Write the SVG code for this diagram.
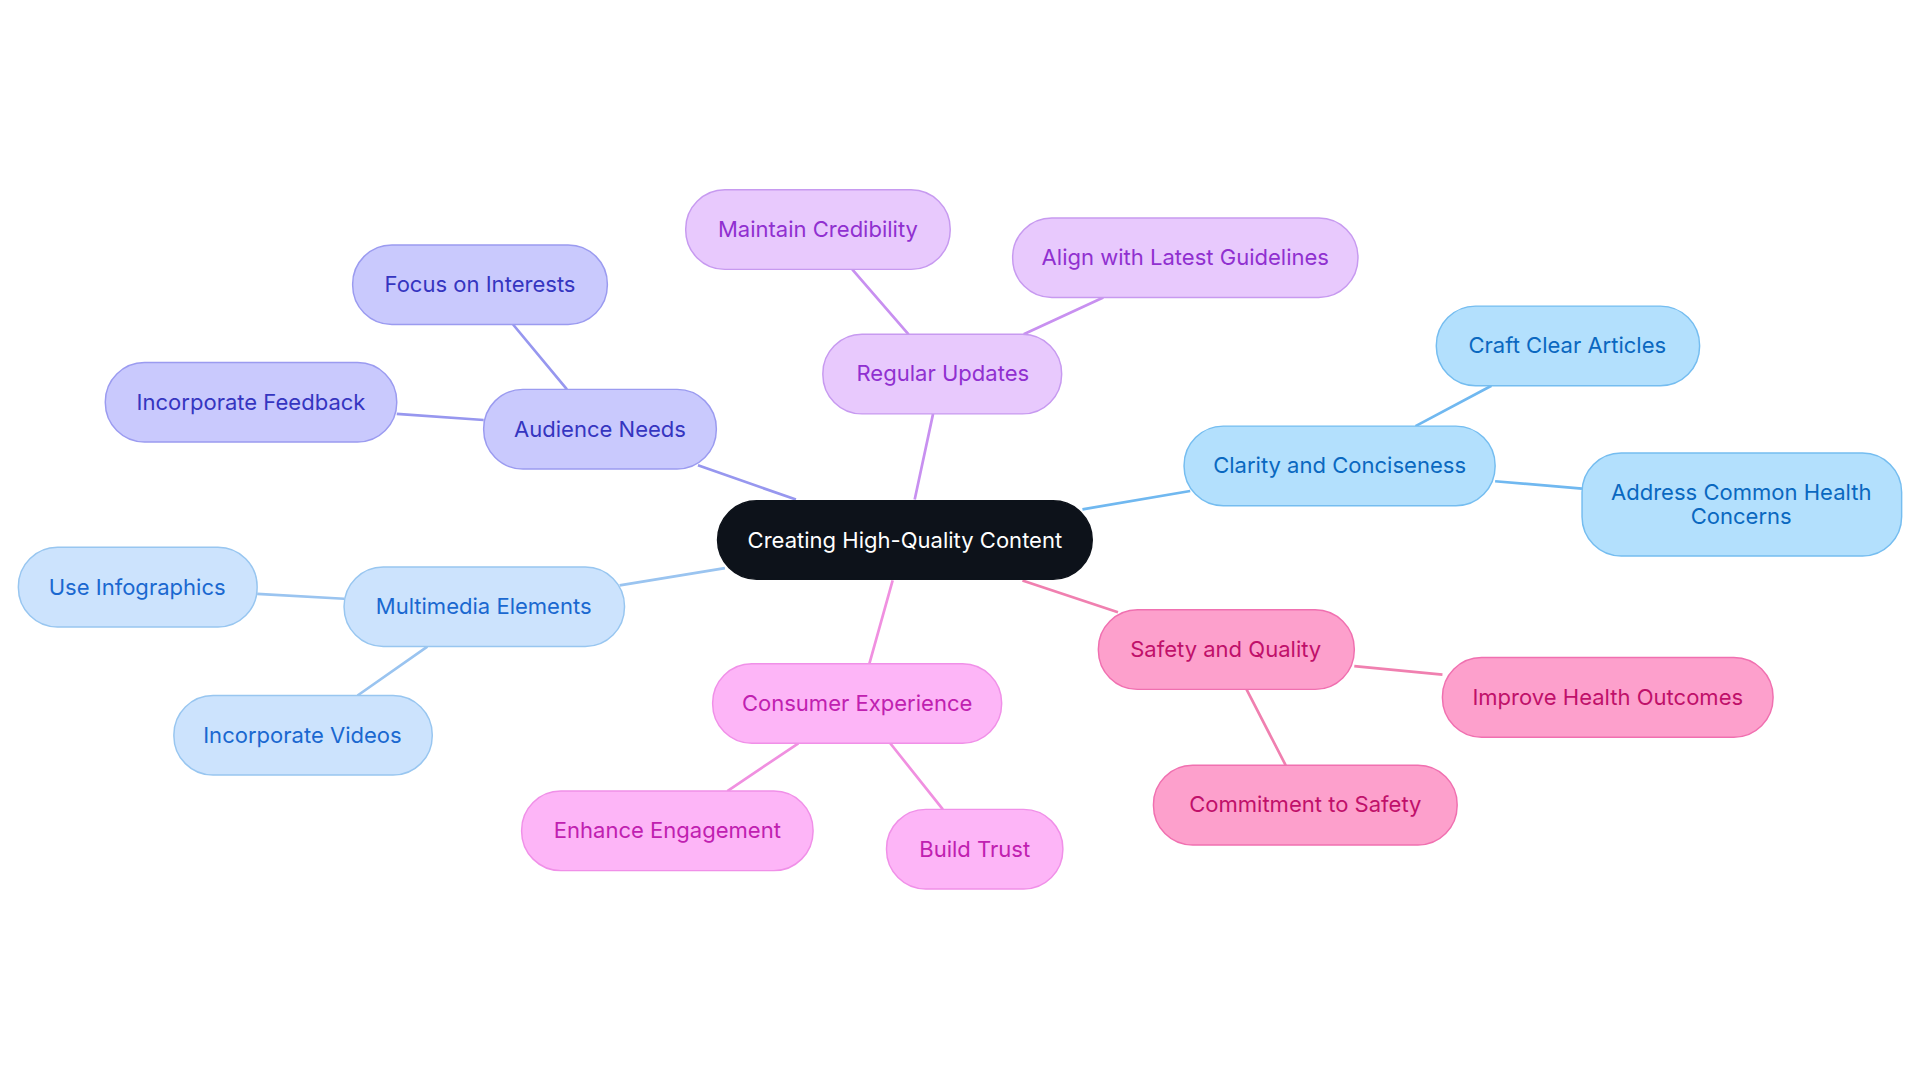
<svg xmlns="http://www.w3.org/2000/svg" width="1920" height="1083" viewBox="0 0 1920 1083">
<style>
text{font-family:Inter,"Noto Sans",sans-serif;font-size:18px;text-anchor:middle;dominant-baseline:central}
rect{stroke-width:1.2}
.c path{fill:none;stroke-width:2.2}
.a rect{fill:#c9c9fd;stroke:#9b9bf0}.a text{fill:#3535c0}
.r rect{fill:#e8c9fd;stroke:#c79af0}.r text{fill:#9030d0}
.k rect{fill:#b3e0fd;stroke:#75bdf0}.k text{fill:#0a68c0}
.m rect{fill:#cce3fd;stroke:#98c6f0}.m text{fill:#1a68d0}
.u rect{fill:#fdb5f7;stroke:#f090e8}.u text{fill:#c020b0}
.s rect{fill:#fda0cc;stroke:#f070b0}.s text{fill:#c0106a}
</style>
<rect width="1920" height="1083" fill="#fff"/>
<g transform="scale(1.22449)">
<g class="c">
<path stroke="#9797ef" d="M650 408L570 380M463 318L419 265M395 343L324 338"/>
<path stroke="#c890f0" d="M747 408L762 338M742 273L696 220M836 273L901 243"/>
<path stroke="#70b8f0" d="M884 416L972 401M1156 348L1218 315M1221 393L1292 399"/>
<path stroke="#9ac4f0" d="M592 464L506 478M281 489L210 485M349 528L292 568"/>
<path stroke="#f090e0" d="M729 474L710 542M652 607L594 646M727 607L770 661"/>
<path stroke="#f080b0" d="M835 474L913 500M1106 544L1178 551M1018 563L1050 625"/>
</g>
<g id="center"><rect x="586" y="409" width="306" height="64" rx="32" fill="#0d121a" stroke="#0d121a"/><text x="739" y="441" fill="#fff">Creating High-Quality Content</text></g>
<g id="audience" class="a"><rect x="395" y="318" width="190" height="65" rx="32"/><text x="490" y="350">Audience Needs</text></g>
<g id="focus" class="a"><rect x="288" y="200" width="208" height="65" rx="32"/><text x="392" y="232">Focus on Interests</text></g>
<g id="feedback" class="a"><rect x="86" y="296" width="238" height="65" rx="32"/><text x="205" y="328">Incorporate Feedback</text></g>
<g id="updates" class="r"><rect x="672" y="273" width="195" height="65" rx="32"/><text x="770" y="305">Regular Updates</text></g>
<g id="cred" class="r"><rect x="560" y="155" width="216" height="65" rx="32"/><text x="668" y="187">Maintain Credibility</text></g>
<g id="align" class="r"><rect x="827" y="178" width="282" height="65" rx="32"/><text x="968" y="210">Align with Latest Guidelines</text></g>
<g id="clarity" class="k"><rect x="967" y="348" width="254" height="65" rx="32"/><text x="1094" y="380">Clarity and Conciseness</text></g>
<g id="craft" class="k"><rect x="1173" y="250" width="215" height="65" rx="32"/><text x="1280" y="282">Craft Clear Articles</text></g>
<g id="address" class="k"><rect x="1292" y="370" width="261" height="84" rx="32"/><text x="1422" y="402">Address Common Health</text><text x="1422" y="421">Concerns</text></g>
<g id="multimedia" class="m"><rect x="281" y="463" width="229" height="65" rx="32"/><text x="395" y="495">Multimedia Elements</text></g>
<g id="infographics" class="m"><rect x="15" y="447" width="195" height="65" rx="32"/><text x="112" y="479">Use Infographics</text></g>
<g id="videos" class="m"><rect x="142" y="568" width="211" height="65" rx="32"/><text x="247" y="600">Incorporate Videos</text></g>
<g id="consumer" class="u"><rect x="582" y="542" width="236" height="65" rx="32"/><text x="700" y="574">Consumer Experience</text></g>
<g id="engage" class="u"><rect x="426" y="646" width="238" height="65" rx="32"/><text x="545" y="678">Enhance Engagement</text></g>
<g id="trust" class="u"><rect x="724" y="661" width="144" height="65" rx="32"/><text x="796" y="693">Build Trust</text></g>
<g id="safety" class="s"><rect x="897" y="498" width="209" height="65" rx="32"/><text x="1001" y="530">Safety and Quality</text></g>
<g id="improve" class="s"><rect x="1178" y="537" width="270" height="65" rx="32"/><text x="1313" y="569">Improve Health Outcomes</text></g>
<g id="commit" class="s"><rect x="942" y="625" width="248" height="65" rx="32"/><text x="1066" y="657">Commitment to Safety</text></g>
</g>
</svg>
